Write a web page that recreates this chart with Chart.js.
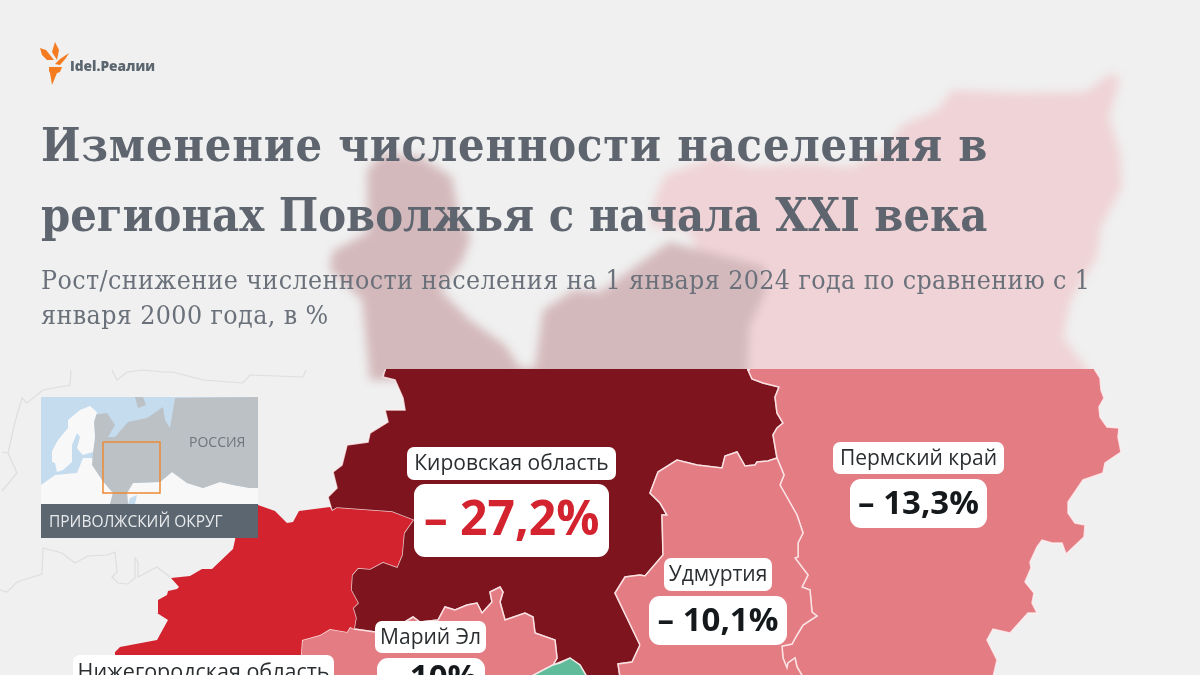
<!DOCTYPE html>
<html lang="ru">
<head>
<meta charset="utf-8">
<title>Изменение численности населения в регионах Поволжья</title>
<script src="https://cdn.jsdelivr.net/npm/chart.js@4"></script>
<style>
    html, body { margin: 0; width: 1200px; height: 675px; overflow: hidden; background: #f0f0f0; }
    canvas { position: absolute; left: 0; top: 0; }
    #ghost { filter: blur(5px); }
    .txt { position: absolute; white-space: nowrap; color: #5e656f; }
    #title { left: 41px; top: 110px; font: bold 46.5px/70px "DejaVu Serif Condensed", "DejaVu Serif", serif; }
    #title span { letter-spacing: 0.8px; }
    #subtitle { left: 41px; top: 262px; font: 26.5px/35px "DejaVu Serif Condensed", "DejaVu Serif", serif; letter-spacing: 0.4px; color: #6a717a; }
    #brand { left: 70px; top: 56px; font: 800 13.7px/20px "Open Sans", sans-serif; color: #5b6670; }
    #russia { left: 189px; top: 433px; font: 14px/18px "Open Sans", sans-serif; color: #6e757a; }
    #okrug { left: 49px; top: 510px; font: 15.5px/22px "Open Sans", sans-serif; color: #e8eaec; }
</style>
</head>
<body>
<canvas id="ghost" width="1200" height="675"></canvas>
<canvas id="map" width="1200" height="675"></canvas>
<div class="txt" id="brand">Idel.Реалии</div>
<div class="txt" id="title"><span>Изменение численности населения в</span><br>регионах Поволжья с начала XXI века</div>
<div class="txt" id="subtitle">Рост/снижение численности населения на 1 января 2024 года по сравнению с 1<br>января 2000 года, в %</div>
<div class="txt" id="russia">РОССИЯ</div>
<div class="txt" id="okrug">ПРИВОЛЖСКИЙ ОКРУГ</div>
<script>
// Подписи и значения
const regionNames  = ['Кировская область', 'Пермский край', 'Удмуртия', 'Марий Эл', 'Нижегородская область'];
const regionValues = ['– 27,2%', '– 13,3%', '– 10,1%', '– 10%', ''];

// Общие границы регионов
const borderNizhnyKirov = [[332,511],[337,508],[392,512],[413,520],[404,533],[402,555],[397,567],[383,562],[370,569],[358,568],[352,575],[351,590],[358,603],[353,608],[356,618],[354,629]];
const borderNizhnyMari = [[354,629],[350,627],[347,632],[330,629],[320,635],[302,640],[301,655],[301,677]];
const borderMariKirov = [[354,629],[375,632],[395,628],[413,617],[420,622],[438,620],[445,607],[455,610],[467,605],[477,603],[482,613],[492,602],[490,592],[500,587],[503,592],[500,602],[505,620],[525,613],[533,617],[535,633],[555,640],[557,658],[553,665]];
const borderKirovUdmurt = [[640,645],[615,593],[625,577],[640,575],[645,576],[663,555],[662,515],[667,515],[660,503],[650,493],[658,472],[677,460],[697,465],[722,468],[725,456],[737,452],[745,466],[755,465],[757,462],[768,461],[777,458]];
const borderUdmurtPerm = [[777,458],[784,475],[780,485],[797,515],[803,533],[798,543],[798,557],[795,558],[808,575],[802,587],[810,590],[812,612],[817,616],[803,625],[797,635],[792,644],[782,646],[783,658],[787,668],[788,663],[795,658],[797,667],[803,677]];
const borderKirovPerm = [[777,458],[773,435],[777,428],[783,423],[777,413],[775,397],[779,387],[763,383],[752,379],[748,370]];

// Контуры регионов
const nizhnyOutline = [[258,505],[275,511],[287,523],[293,522],[299,511],[330,507]].concat(borderNizhnyKirov, borderNizhnyMari.slice(1), [[115,677],[115,652],[120,647],[157,640],[168,620],[157,613],[158,600],[167,595],[168,591],[177,589],[179,587],[171,578],[190,576],[202,569],[212,569],[233,549],[235,540],[240,505]]);
const mariOutline = borderNizhnyMari.slice().reverse().concat(borderMariKirov.slice(1), [[530,677]]);
const greenOutline = [[553,665],[560,663],[570,658],[580,665],[587,677],[530,677]];
const kirovOutline = [[385,370],[383,377],[395,380],[403,398],[405,410],[385,410],[388,422],[370,433],[368,442],[347,445],[342,465],[333,472],[337,488],[328,497]].concat(borderNizhnyKirov, borderMariKirov.slice(1), [[570,658],[580,665],[587,677],[620,677],[618,664],[632,662]], borderKirovUdmurt, borderKirovPerm.slice(1));
const udmurtOutline = borderKirovUdmurt.concat(borderUdmurtPerm.slice(1), [[620,677],[618,664],[632,662]]);
const permOutline = [[748,370],[1095,370],[1100,378],[1101,390],[1104,398],[1099,407],[1100,417],[1107,427],[1119,428],[1118,437],[1121,452],[1105,463],[1103,473],[1083,480],[1068,502],[1068,513],[1075,523],[1085,525],[1084,537],[1066,554],[1062,543],[1052,543],[1042,540],[1037,547],[1030,562],[1031,568],[1025,582],[1034,593],[1032,603],[1037,613],[1028,613],[1010,633],[993,629],[987,640],[997,660],[993,677]].concat(borderUdmurtPerm.slice().reverse(), borderKirovPerm.slice(1));

// Верхний срез карты, без светлой обводки
const topEdgeKirov = [[386,370],[747,370]];
const topEdgePerm = [[750,370],[1094,370]];

// Соседние территории, тонкие линии
const neighbourWest = [[2,491],[17,473],[8,453],[2,452]];
const neighbourWest2 = [[8,453],[15,422],[22,398],[27,403],[43,390],[70,385],[71,370]];
const neighbourNorth = [[112,370],[117,380],[127,372],[143,370],[163,372],[173,372],[203,380],[243,383],[250,375],[303,377],[306,370]];
const neighbourSouth = [[0,590],[7,592],[17,582],[42,574],[43,548],[62,553],[75,563],[88,556],[107,555],[115,552],[117,572],[112,577],[118,583],[128,584],[135,578],[135,558],[138,562],[138,577],[157,567],[170,577]];

// Размытая часть карты под заголовком
const ghostPerm = [[1113,73],[1097,83],[1086,92],[1021,93],[952,90],[937,110],[902,125],[883,153],[849,167],[810,163],[753,167],[715,157],[665,175],[654,200],[650,227],[688,230],[696,247],[690,380],[1095,380],[1063,337],[1071,300],[1097,257],[1101,227],[1122,187],[1120,153],[1109,117],[1120,80]];
const ghostKirov = [[367,170],[383,153],[421,157],[452,177],[459,217],[471,237],[462,262],[440,290],[470,320],[505,345],[520,368],[535,368],[543,310],[574,290],[600,292],[669,242],[765,267],[765,293],[749,327],[747,380],[370,380],[362,300],[330,270],[332,252],[368,232]];

// Врезка
const insetSea = [[41,397],[258,397],[258,504],[41,504]];
const insetRussia = [[93,415],[107,413],[115,425],[108,437],[115,437],[128,422],[147,418],[163,407],[165,420],[170,428],[175,398],[258,397],[258,488],[250,488],[233,485],[220,482],[203,488],[187,483],[172,472],[160,482],[133,483],[127,493],[128,504],[110,504],[113,493],[102,480],[92,465],[93,452],[95,437]];
const insetIsland = [[135,397],[143,397],[146,405],[138,408]];
const insetCaspian = [[128,504],[130,498],[137,495],[135,504]];
const insetScandinavia = [[52,451],[58,440],[68,428],[68,420],[80,410],[90,406],[97,412],[94,422],[95,437],[93,452],[83,455],[80,452],[77,448],[80,437],[77,433],[72,445],[72,462],[63,470],[57,472],[55,463],[52,462]];
const insetEurope = [[41,485],[55,475],[77,473],[83,458],[92,458],[102,480],[113,493],[110,504],[41,504]];
const insetSouth = [[128,504],[127,493],[133,483],[160,482],[172,472],[187,483],[203,488],[220,482],[233,485],[250,488],[258,488],[258,504]];
const insetFrame = [[103,442],[160,442],[160,493],[103,493]];
const insetStrip = [[41,504],[258,504],[258,538],[41,538]];

// Логотип
const logoLeft = [[40,48],[46,50],[54,60],[47,60],[42,55]];
const logoMiddle = [[55,42],[59,50],[57,60],[52,52]];
const logoRight = [[69,53],[66,58],[60,65],[55,64],[60,59]];
const logoHandle = [[49,67],[62,67],[60,72],[57,73],[52,85],[50,73],[49,71]];

function shape(outline, color, border, width) {
    return {
        data: outline.concat([outline[0]]).map(function (p) { return { x: p[0], y: p[1] }; }),
        showLine: true,
        fill: 'shape',
        backgroundColor: color,
        borderColor: border || color,
        borderWidth: width === undefined ? 1.5 : width,
        pointRadius: 0,
        tension: 0
    };
}

function line(points, color, width) {
    return {
        data: points.map(function (p) { return { x: p[0], y: p[1] }; }),
        showLine: true,
        fill: false,
        borderColor: color,
        borderWidth: width || 1.2,
        pointRadius: 0
    };
}

const fullPage = {
    x: { type: 'linear', min: 0, max: 1200, display: false },
    y: { type: 'linear', min: 0, max: 675, reverse: true, display: false }
};

const baseOptions = {
    responsive: false,
    animation: false,
    events: [],
    layout: { padding: 0 },
    scales: fullPage,
    plugins: { legend: { display: false }, tooltip: { enabled: false } }
};

// Плашки с подписями
const labelBoxes = [[407,447,209,33], [833,442,171,32], [664,558,108,33], [375,621,111,32], [73,655,261,33]];
const valueBoxes = [[414,484,195,73], [850,479,137,49], [649,596,138,49], [377,658,108,40], null];
const valueFonts = [48, 33, 33, 33, 33];
const valueColors = ['#d2232f', '#15191c', '#15191c', '#15191c', '#15191c'];
const labelFonts = [21, 21, 21, 21, 21.5];

const labelsPlugin = {
    id: 'regionLabels',
    afterDatasetsDraw: function (chart) {
        const ctx = chart.ctx;
        const sx = chart.scales.x, sy = chart.scales.y;
        ctx.save();
        ctx.textAlign = 'center';
        ctx.textBaseline = 'middle';
        regionNames.forEach(function (name, i) {
            const b = labelBoxes[i];
            ctx.fillStyle = '#fff';
            ctx.beginPath();
            ctx.roundRect(sx.getPixelForValue(b[0]), sy.getPixelForValue(b[1]), b[2], b[3], 7);
            ctx.fill();
            ctx.fillStyle = '#2a2e31';
            ctx.font = labelFonts[i] + 'px "Open Sans", sans-serif';
            ctx.fillText(name, sx.getPixelForValue(b[0] + b[2] / 2), sy.getPixelForValue(b[1] + b[3] / 2 + 1));

            const v = valueBoxes[i];
            if (!v) return;
            ctx.fillStyle = '#fff';
            ctx.beginPath();
            ctx.roundRect(sx.getPixelForValue(v[0]), sy.getPixelForValue(v[1]), v[2], v[3], 11);
            ctx.fill();
            ctx.fillStyle = valueColors[i];
            ctx.font = 'bold ' + valueFonts[i] + 'px "Open Sans", sans-serif';
            ctx.fillText(regionValues[i], sx.getPixelForValue(v[0] + v[2] / 2), sy.getPixelForValue(v[1] + v[3] / 2 + 1));
        });
        ctx.restore();
    }
};

new Chart(document.getElementById('ghost'), {
    type: 'scatter',
    data: { datasets: [
        shape(ghostKirov, '#d4b9bc', '#d4b9bc', 0),
        shape(ghostPerm, '#efd3d6', '#efd3d6', 0)
    ] },
    options: baseOptions
});

const regionBorder = 'rgba(255,240,240,0.8)';

new Chart(document.getElementById('map'), {
    type: 'scatter',
    data: { datasets: [
        shape(logoLeft, '#f47b20', '#f47b20', 0),
        shape(logoMiddle, '#f47b20', '#f47b20', 0),
        shape(logoRight, '#f47b20', '#f47b20', 0),
        shape(logoHandle, '#f47b20', '#f47b20', 0),
        line(insetFrame.concat([insetFrame[0]]), '#ec8a35', 1.5),
        shape(insetStrip, '#5b6670', '#5b6670', 0),
        shape(insetCaspian, '#c5dcef', '#c5dcef', 0),
        shape(insetScandinavia, '#f8f8f8', '#f8f8f8', 0),
        shape(insetIsland, '#bcc1c5', '#bcc1c5', 0),
        shape(insetRussia, '#bcc1c5', '#bcc1c5', 0),
        shape(insetSouth, '#f8f8f8', '#f8f8f8', 0),
        shape(insetEurope, '#f8f8f8', '#f8f8f8', 0),
        shape(insetSea, '#c5dcef', '#c5dcef', 0),
        line(topEdgeKirov, '#7d141e', 2),
        line(topEdgePerm, '#e47c84', 2),
        shape(greenOutline, '#5fbb9a', regionBorder),
        shape(nizhnyOutline, '#d2232f', '#d2232f', 0),
        shape(mariOutline, '#e47c84', regionBorder),
        shape(udmurtOutline, '#e47c84', regionBorder),
        shape(permOutline, '#e47c84', regionBorder),
        shape(kirovOutline, '#7d141e', regionBorder),
        line(neighbourWest, '#dedede'),
        line(neighbourWest2, '#dedede'),
        line(neighbourNorth, '#dedede'),
        line(neighbourSouth, '#dedede')
    ] },
    options: baseOptions,
    plugins: [labelsPlugin]
});
</script>
</body>
</html>
